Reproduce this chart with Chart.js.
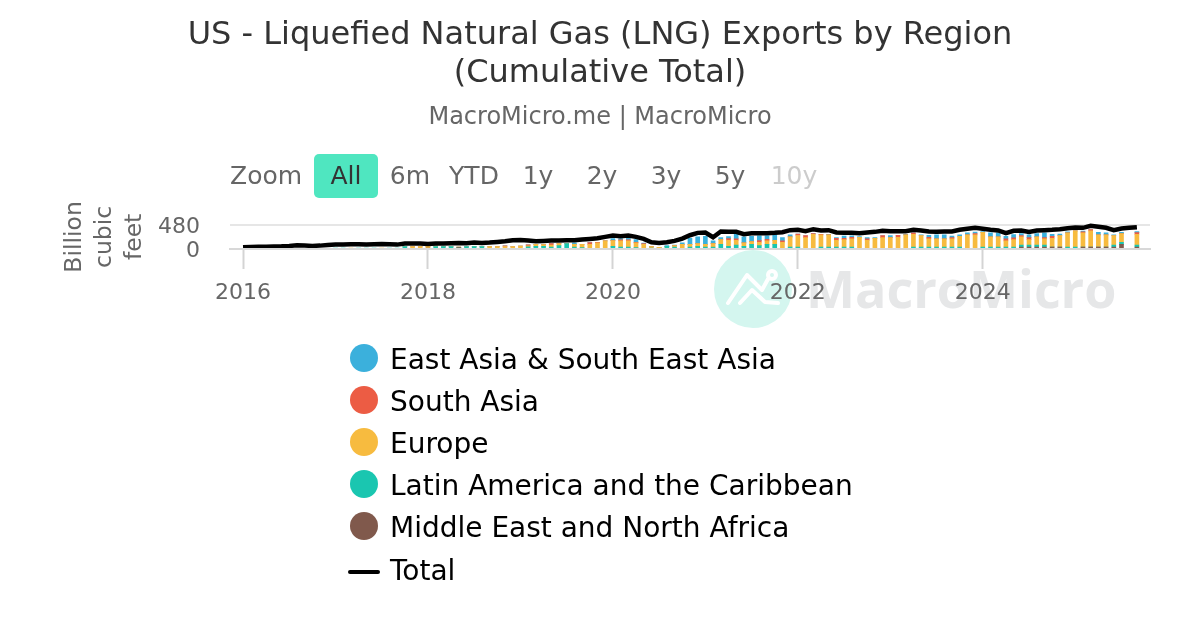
<!DOCTYPE html>
<html>
<head>
<meta charset="utf-8">
<title>US LNG Exports by Region</title>
<script src="https://cdn.jsdelivr.net/npm/chart.js@4"></script>
<style>
  html, body { margin: 0; padding: 0; background: #fff; }
  body { width: 1200px; height: 630px; overflow: hidden; position: relative; font-family: "DejaVu Sans", sans-serif; }
  #chart { position: absolute; left: 0; top: 0; }
  .wm-circle { position: absolute; left: 714px; top: 250px; width: 78px; height: 78px; border-radius: 50%; background: #d4f6ef; }
  .wm-logo { position: absolute; left: 714px; top: 250px; }
  .wm-text { position: absolute; left: 806px; top: 252px; font: 700 52px/72px "Open Sans", sans-serif; color: #e6e7e8; letter-spacing: 0; }
  .btn { position: absolute; top: 154px; width: 64px; height: 44px; line-height: 44px; text-align: center; font-size: 25px; color: #666; border-radius: 5px; }
  .btn.active { background: #4fe6c0; color: #333; }
  .btn.off { color: #ccc; }
  .zoom-label { position: absolute; left: 230px; top: 154px; line-height: 44px; font-size: 25px; color: #666; }
  .lg-item { position: absolute; left: 390px; font-size: 28px; line-height: 36px; color: #000; white-space: nowrap; }
  .lg-dot { position: absolute; left: 350px; width: 28px; height: 28px; border-radius: 50%; }
  .lg-line { position: absolute; left: 348px; width: 32px; height: 4px; background: #000; border-radius: 2px; }
</style>
</head>
<body>
<div class="wm-circle"></div>
<svg class="wm-logo" width="78" height="78" fill="none" stroke="#fff" stroke-width="4" stroke-linecap="round" stroke-linejoin="round">
  <polyline points="14,53 33,25 48,40 54,29"/>
  <polyline points="26,53 38,40 51,52 64,53"/>
  <circle cx="58" cy="25" r="4"/>
</svg>
<div class="wm-text">MacroMicro</div>
<canvas id="chart" width="1200" height="630"></canvas>
<div class="zoom-label">Zoom</div>
<div id="buttons"></div>
<div id="legend"></div>
<script>
// Months counted from 2016-01, one row per year
const brown = [
  0,0,0,0,0,0,0,0,0,0,0,0,
  0,0,0,0,0,0,0,0,0,0,0,0,
  15,0,0,0,27,0,0,0,0,0,0,0,
  0,0,0,0,0,0,0,0,0,0,0,0,
  0,0,0,0,0,0,0,0,0,0,0,0,
  0,0,0,0,0,0,0,0,0,0,0,0,
  0,0,0,0,0,0,0,0,0,0,0,0,
  0,0,0,0,0,0,0,0,0,0,0,0,
  0,0,0,0,0,40,40,40,40,40,40,0,
  0,40,40,40,40,40,93,0,40
];
const teal = [
  0,0,0,0,0,0,0,0,0,0,0,0,
  5,5,0,5,5,5,0,5,5,50,0,0,
  0,50,50,50,0,50,50,50,0,0,0,0,
  0,45,53,53,40,67,107,40,27,0,0,0,
  53,40,40,27,0,13,0,53,40,0,40,53,
  40,40,93,53,80,53,93,67,93,93,0,40,
  40,0,0,40,40,40,40,40,0,0,0,0,
  0,0,0,40,40,40,40,40,40,40,0,0,
  40,40,40,40,40,40,40,40,40,0,0,40,
  40,0,0,0,0,40,40,0,40
];
const yellow = [
  0,0,0,0,0,0,0,0,0,0,0,0,
  0,5,5,5,0,5,5,5,5,0,50,50,
  40,10,0,0,10,0,0,0,50,50,50,50,
  60,20,40,33,40,40,0,53,67,93,120,160,
  113,120,120,93,93,33,33,0,27,93,53,53,
  53,67,93,120,93,67,53,67,67,80,133,200,
  227,227,293,240,240,133,147,160,233,173,213,227,
  227,233,280,253,227,160,160,160,160,213,280,280,
  293,200,200,120,147,160,107,160,120,173,227,280,
  320,280,320,240,240,187,173,0,213
];
const red = [
  0,0,0,0,0,0,0,0,0,0,0,0,
  0,0,0,0,0,0,0,0,0,0,0,0,
  0,0,0,0,0,0,0,0,0,0,15,0,
  0,20,0,0,27,0,0,0,0,33,13,0,
  0,20,20,13,13,0,0,0,0,0,0,0,
  0,0,0,33,27,0,0,33,33,0,27,0,
  27,40,13,13,0,40,27,33,0,27,0,40,
  0,40,0,27,0,33,0,0,27,0,0,27,
  0,0,0,40,33,27,40,0,27,40,0,0,
  0,20,27,0,0,0,0,0,33
];
const blue = [
  0,0,0,0,0,0,0,0,0,0,0,0,
  0,0,0,0,0,0,0,0,0,0,0,0,
  0,0,0,0,0,0,0,0,0,0,0,0,
  0,0,0,0,0,0,0,27,0,0,0,0,
  40,27,40,53,13,0,0,13,13,27,120,133,
  160,53,40,40,93,120,107,93,67,120,67,40,
  0,0,0,0,13,13,40,27,13,27,13,0,
  40,0,13,0,13,40,80,80,27,27,40,27,
  13,80,80,53,67,40,53,67,93,40,27,20,
  0,13,0,53,40,13,27,0,20
];
const total = [
  33,40,45,45,50,53,60,73,67,60,67,80,
  87,90,93,93,87,93,97,93,87,107,107,107,
  100,107,107,113,120,113,127,120,127,140,153,173,
  180,167,153,160,167,167,173,173,187,200,213,240,
  267,253,267,240,200,133,120,133,160,207,273,320,
  327,233,347,340,340,293,313,313,313,320,333,373,
  380,353,393,367,373,327,320,320,313,327,340,360,
  353,353,353,380,367,347,340,347,347,380,400,420,
  400,380,367,313,360,367,340,367,373,380,393,413,
  427,420,460,440,420,373,407,420,433
];
const yearTicks = [0, 24, 48, 72, 96];
const yearLabels = ['2016', '2018', '2020', '2022', '2024'];
const valueTicks = [0, 480];
const regionNames = ['East Asia & South East Asia', 'South Asia', 'Europe', 'Latin America and the Caribbean', 'Middle East and North Africa'];
const regionColors = ['#3bb0dc', '#ec5c44', '#f7bb3f', '#1ac6b0', '#80594c'];
const rangeButtons = ['All', '6m', 'YTD', '1y', '2y', '3y', '5y', '10y'];

function toPoints(values) {
  return values.map((v, i) => ({ x: i, y: v }));
}

// Range selector, plain html like the legend below
const buttonsEl = document.getElementById('buttons');
rangeButtons.forEach((name, i) => {
  const b = document.createElement('div');
  b.className = 'btn' + (i === 0 ? ' active' : '') + (name === '10y' ? ' off' : '');
  b.style.left = (314 + i * 64) + 'px';
  b.textContent = name;
  buttonsEl.appendChild(b);
});

const legendEl = document.getElementById('legend');
regionNames.concat(['Total']).forEach((name, i) => {
  const y = 358 + i * 42.1;
  const mark = document.createElement('div');
  if (name === 'Total') {
    mark.className = 'lg-line';
    mark.style.top = (y + 1) + 'px';
  } else {
    mark.className = 'lg-dot';
    mark.style.top = (y - 14) + 'px';
    mark.style.background = regionColors[i];
  }
  legendEl.appendChild(mark);
  const label = document.createElement('div');
  label.className = 'lg-item';
  label.style.top = (y - 16) + 'px';
  label.textContent = name;
  legendEl.appendChild(label);
});

const barSets = [
  { label: regionNames[4], values: brown, color: regionColors[4] },
  { label: regionNames[3], values: teal, color: regionColors[3] },
  { label: regionNames[2], values: yellow, color: regionColors[2] },
  { label: regionNames[1], values: red, color: regionColors[1] },
  { label: regionNames[0], values: blue, color: regionColors[0] }
].map(s => ({
  type: 'bar',
  label: s.label,
  data: toPoints(s.values),
  backgroundColor: s.color,
  barThickness: 4,
  stack: 'regions',
  order: 2
}));

new Chart(document.getElementById('chart').getContext('2d'), {
  data: {
    datasets: [{
      type: 'line',
      label: 'Total',
      data: toPoints(total),
      borderColor: '#000',
      borderWidth: 4.5,
      pointRadius: 0,
      tension: 0,
      stack: 'total',
      order: 1,
      clip: false
    }].concat(barSets)
  },
  options: {
    responsive: false,
    animation: false,
    layout: { padding: { left: 50, right: 50, top: 16.5, bottom: 0 } },
    plugins: {
      legend: { display: false },
      tooltip: { enabled: false },
      title: {
        display: true,
        text: ['US - Liquefied Natural Gas (LNG) Exports by Region', '(Cumulative Total)'],
        color: '#333',
        font: { family: '"DejaVu Sans"', size: 32, weight: 'normal', lineHeight: 1.1875 },
        padding: { top: 0, bottom: 11 }
      },
      subtitle: {
        display: true,
        text: 'MacroMicro.me | MacroMicro',
        color: '#666',
        font: { family: '"DejaVu Sans"', size: 24, weight: 'normal', lineHeight: 1.2 },
        padding: { top: 0, bottom: 92.5 }
      }
    },
    scales: {
      x: {
        type: 'linear',
        stacked: true,
        offset: false,
        min: -1.69,
        max: 117.7,
        afterBuildTicks: scale => { scale.ticks = yearTicks.map(v => ({ value: v })); },
        afterFit: scale => { scale.height = 381; },
        ticks: {
          autoSkip: false,
          maxRotation: 0,
          padding: 11,
          color: '#666',
          font: { family: '"DejaVu Sans"', size: 22 },
          callback: v => yearLabels[yearTicks.indexOf(v)]
        },
        grid: { display: true, offset: false, drawOnChartArea: false, drawTicks: true, tickLength: 20, tickColor: '#d4d4d4', tickWidth: 2 },
        border: { color: '#d8d8d8', width: 2, z: 1 }
      },
      y: {
        stacked: true,
        min: 0,
        max: 480,
        afterBuildTicks: scale => { scale.ticks = valueTicks.map(v => ({ value: v })); },
        afterFit: scale => { scale.width = 180; },
        title: {
          display: true,
          text: ['Billion', 'cubic', 'feet'],
          color: '#666',
          font: { family: '"DejaVu Sans"', size: 23.5, lineHeight: 1.27 },
          padding: { top: 10, bottom: 0 }
        },
        ticks: {
          autoSkip: false,
          padding: 30,
          labelOffset: 2,
          color: '#666',
          font: { family: '"DejaVu Sans"', size: 22 }
        },
        grid: { color: '#e6e6e6', lineWidth: 2, drawTicks: false },
        border: { display: false }
      }
    }
  }
});
</script>
</body>
</html>
